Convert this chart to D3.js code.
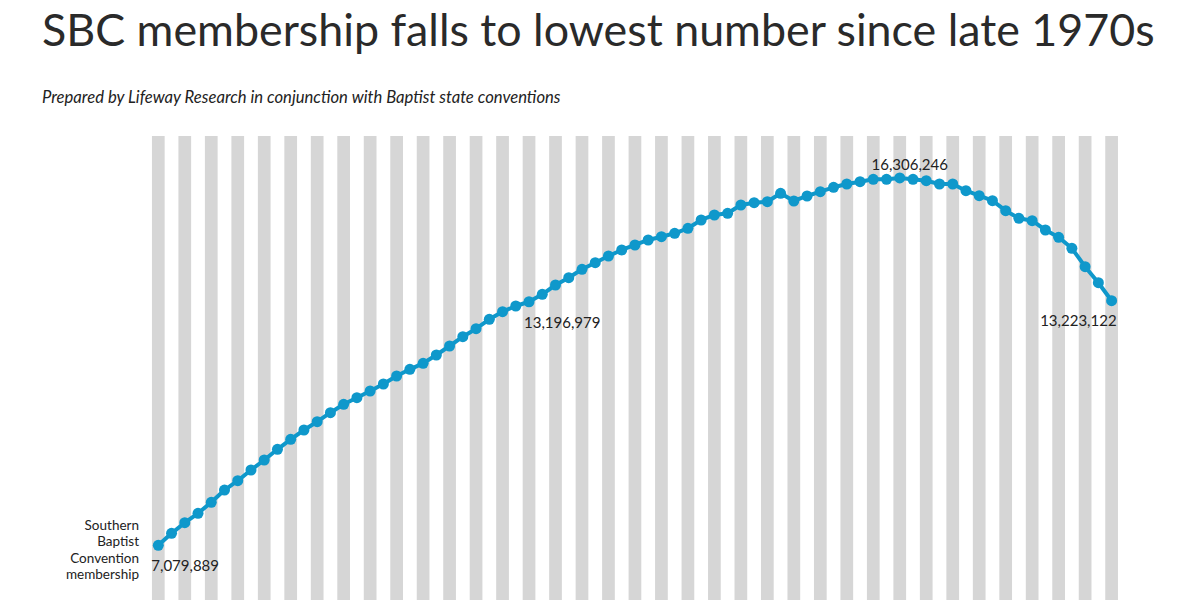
<!DOCTYPE html>
<html>
<head>
<meta charset="utf-8">
<script src="https://cdn.jsdelivr.net/npm/d3@7"></script>
<style>
  html, body { margin: 0; padding: 0; background: #fff; }
  svg { display: block; }
</style>
</head>
<body>
<svg id="chart" width="1200" height="600"></svg>
<script>
// ---- Data ----
const years = d3.range(1950, 2023);
const membership = [
  7079889, 7381269, 7647488, 7883569, 8159834, 8468749, 8702318, 8971049, 9222199, 9490929,
  9742079, 9975649, 10184103, 10410138, 10621104, 10786863, 10955134, 11130939, 11331859, 11500129,
  11650819, 11859274, 12085309, 12318878, 12519798, 12755879, 12946753, 13089909, 13196979, 13383754,
  13617324, 13800663, 14011629, 14177388, 14345659, 14496349, 14621924, 14747499, 14830378, 14915769,
  15041344, 15249799, 15375374, 15418069, 15626524, 15684288, 15709403, 15920369, 15726984, 15852559,
  15960553, 16071059, 16153939, 16211703, 16271979, 16271979, 16306246, 16271979, 16236818, 16153939,
  16153939, 15985668, 15860093, 15734518, 15483368, 15292494, 15232218, 14998649, 14815309, 14539044,
  14076928, 13675088, 13223122
];
const labelYears = [1950, 1978, 2006, 2022];
const titleText = "SBC membership falls to lowest number since late 1970s";
const subtitleText = "Prepared by Lifeway Research in conjunction with Baptist state conventions";
const seriesLabel = ["Southern", "Baptist", "Convention", "membership"];

const data = years.map((y, i) => ({ year: y, value: membership[i] }));

// ---- Layout ----
const svg = d3.select("#chart");
const x = d3.scaleLinear().domain([1950, 2022]).range([158.3, 1111.6]);
const y = d3.scaleLinear().domain([7000000, 17000000]).range([548.5, 150.3]);
const step = x(1951) - x(1950);
const blue = "#0f98cb";
const font = "Lato, 'Open Sans', sans-serif";

// Title
const title = svg.append("text")
  .attr("x", 42).attr("y", 46)
  .attr("font-family", font)
  .attr("font-weight", 400)
  .attr("font-size", 44)
  .attr("fill", "#2a2a2a")
  .text(titleText);
const tw = title.node().getComputedTextLength();
title.attr("font-size", 44 * (1113 / tw));

// Subtitle
const sub = svg.append("text")
  .attr("x", 42).attr("y", 103)
  .attr("font-family", font)
  .attr("font-style", "italic")
  .attr("font-size", 15)
  .attr("fill", "#222")
  .text(subtitleText);
const sw = sub.node().getComputedTextLength();
sub.attr("font-size", 15 * (519 / sw));

// Stripes on even-year positions
svg.append("g").selectAll("rect")
  .data(data.filter((d, i) => i % 2 === 0))
  .join("rect")
  .attr("x", d => x(d.year) - step * 0.48)
  .attr("width", step * 0.96)
  .attr("y", 136)
  .attr("height", 600 - 136)
  .attr("fill", "#d6d6d6");

// Line
const line = d3.line().x(d => x(d.year)).y(d => y(d.value));
svg.append("path")
  .datum(data)
  .attr("d", line)
  .attr("fill", "none")
  .attr("stroke", blue)
  .attr("stroke-width", 4)
  .attr("stroke-linejoin", "round");

// Dots
svg.append("g").selectAll("circle")
  .data(data)
  .join("circle")
  .attr("cx", d => x(d.year))
  .attr("cy", d => y(d.value))
  .attr("r", 5.5)
  .attr("fill", blue);

// Value labels
const fmt = d3.format(",");
const labelOffsets = {
  1950: { dx: -7, dy: 26, anchor: "start" },
  1978: { dx: -5, dy: 26, anchor: "start" },
  2006: { dx: 10, dy: -8, anchor: "middle" },
  2022: { dx: 5, dy: 25, anchor: "end" }
};
svg.append("g").selectAll("text")
  .data(data.filter(d => labelYears.includes(d.year)))
  .join("text")
  .attr("x", d => x(d.year) + labelOffsets[d.year].dx)
  .attr("y", d => y(d.value) + labelOffsets[d.year].dy)
  .attr("text-anchor", d => labelOffsets[d.year].anchor)
  .attr("font-family", font)
  .attr("font-size", 15)
  .attr("fill", "#222")
  .text(d => fmt(d.value));

// Series label
svg.append("g").selectAll("text")
  .data(seriesLabel)
  .join("text")
  .attr("x", 139)
  .attr("y", (d, i) => 530 + i * 16.3)
  .attr("text-anchor", "end")
  .attr("font-family", font)
  .attr("font-size", 13.5)
  .attr("fill", "#222")
  .text(d => d);
</script>
</body>
</html>
